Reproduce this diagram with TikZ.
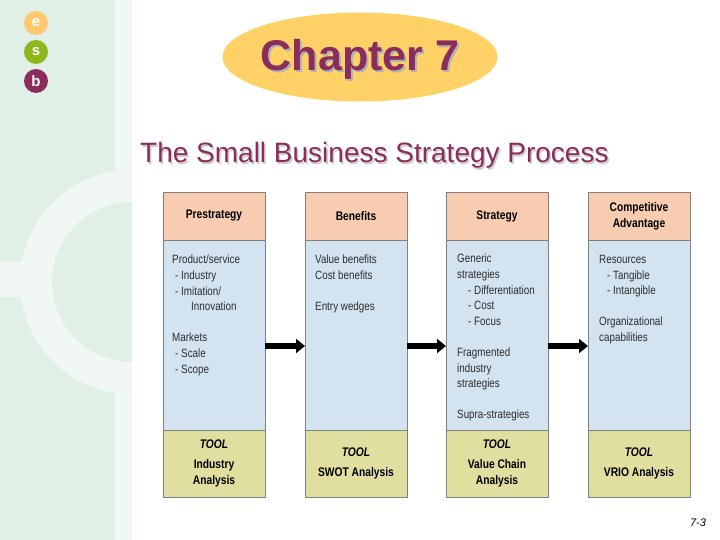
\documentclass[tikz,border=0pt]{standalone}
\usepackage{fontspec}
\setmainfont{Liberation Sans}
\newfontfamily\narrowfont[FakeStretch=0.82]{Liberation Sans}
\usetikzlibrary{arrows.meta,positioning,shapes.geometric}
\definecolor{sidegreen}{HTML}{E1F0E7}
\definecolor{sidepale}{HTML}{F1F8F4}
\definecolor{logoorange}{HTML}{FFC86E}
\definecolor{logogreen}{HTML}{8CB81E}
\definecolor{maroon}{HTML}{8A2D5C}
\definecolor{titleyellow}{HTML}{FFD166}
\definecolor{headsalmon}{HTML}{F8CCB0}
\definecolor{bodyblue}{HTML}{D3E3EF}
\definecolor{toolkhaki}{HTML}{E0DFA0}
\definecolor{bodytextgray}{HTML}{2E2E2E}

\begin{document}
\begin{tikzpicture}[x=1pt,y=-1pt,
  logo/.style={circle,fill=#1,minimum size=24pt,inner sep=0pt,text=white,
    font=\bfseries\fontsize{15}{15}\selectfont},
  headbox/.style={draw=gray,fill=headsalmon,minimum width=102pt,minimum height=48pt,
    inner sep=0pt,outer sep=0pt,align=center,font=\narrowfont\bfseries\fontsize{12.5}{16}\selectfont},
  bodybox/.style={draw=gray,fill=bodyblue,minimum width=102pt,minimum height=190pt,
    inner sep=0pt,outer sep=0pt},
  toolbox/.style={draw=gray,fill=toolkhaki,minimum width=102pt,minimum height=67pt,
    inner sep=0pt,outer sep=0pt,align=center,font=\narrowfont\bfseries\fontsize{12.5}{16}\selectfont},
  bodytext/.style={anchor=north west,inner sep=0pt,align=left,text=bodytextgray,
    font=\narrowfont\fontsize{12}{15.6}\selectfont},
  bigarrow/.style={line width=5.5pt,-{Triangle[length=9pt,width=14pt]}}]
  \useasboundingbox (0,0) rectangle (720,540);
  \fill[white] (0,0) rectangle (720,540);
  \begin{scope}
    \clip (0,0) rectangle (132,540);
    \fill[sidegreen] (0,0) rectangle (132,540);
    \fill[sidepale] (115,0) rectangle (132,540);
    \fill[sidepale] (132,282) circle [radius=112];
    \fill[sidepale] (0,262) rectangle (60,297);
    \fill[sidegreen] (132,282) circle [radius=80];
  \end{scope}

  \node[logo=logoorange] (loge) at (36,23) {e};
  \node[logo=logogreen] (logs) at (36,52) {s};
  \node[logo=maroon] (logb) at (36,81) {b};

  \node[ellipse,fill=titleyellow,minimum width=275pt,minimum height=89pt] (oval) at (360,57) {};
  \node[anchor=base,text=gray!60,font=\bfseries\fontsize{43}{43}\selectfont] (chapshadow) at (362,73) {Chapter 7};
  \node[anchor=base,text=maroon,font=\bfseries\fontsize{43}{43}\selectfont] (chapter) at (360,71) {Chapter 7};
  \node[anchor=base west,inner sep=0pt,text=gray!40,font=\fontsize{28}{28}\selectfont] (subshadow) at (141.5,164.5) {The Small Business Strategy Process};
  \node[anchor=base west,inner sep=0pt,text=maroon,font=\fontsize{28}{28}\selectfont] (subtitle) at (140,163) {The Small Business Strategy Process};

  \node[headbox] (h1) at (214,216) {Prestrategy};
  \node[headbox] (h2) at (356,216) {Benefits};
  \node[headbox] (h3) at (497,216) {Strategy};
  \node[headbox] (h4) at (639,216) {Competitive\\Advantage};

  \node[bodybox,below=0pt of h1] (b1) {};
  \node[bodybox,below=0pt of h2] (b2) {};
  \node[bodybox,below=0pt of h3] (b3) {};
  \node[bodybox,below=0pt of h4] (b4) {};

  \node[toolbox,below=0pt of b1] (t1) {\textit{TOOL}\\[4pt]Industry\\Analysis};
  \node[toolbox,below=0pt of b2] (t2) {\textit{TOOL}\\[4pt]SWOT Analysis};
  \node[toolbox,below=0pt of b3] (t3) {\textit{TOOL}\\[4pt]Value Chain\\Analysis};
  \node[toolbox,below=0pt of b4] (t4) {\textit{TOOL}\\[4pt]VRIO Analysis};

  \node[bodytext] (l1) at (172,255) {Product/service\\
    \hspace*{3pt}- Industry\\
    \hspace*{3pt}- Imitation/\\
    \hspace*{19pt}Innovation\\[15.6pt]
    Markets\\
    \hspace*{3pt}- Scale\\
    \hspace*{3pt}- Scope};
  \node[bodytext] (l2) at (315,255) {Value benefits\\
    Cost benefits\\[15.6pt]
    Entry wedges};
  \node[bodytext] (l3) at (457,254) {Generic\\
    strategies\\
    \hspace*{11pt}- Differentiation\\
    \hspace*{11pt}- Cost\\
    \hspace*{11pt}- Focus\\[15.6pt]
    Fragmented\\
    industry\\
    strategies\\[15.6pt]
    Supra-strategies};
  \node[bodytext] (l4) at (599,255) {Resources\\
    \hspace*{8pt}- Tangible\\
    \hspace*{8pt}- Intangible\\[15.6pt]
    Organizational\\
    capabilities};

  \draw[bigarrow] ([yshift=-11pt]b1.east) -- ([yshift=-11pt]b2.west);
  \draw[bigarrow] ([yshift=-11pt]b2.east) -- ([yshift=-11pt]b3.west);
  \draw[bigarrow] ([yshift=-11pt]b3.east) -- ([yshift=-11pt]b4.west);

  \node[font=\itshape\fontsize{11}{11}\selectfont] (pagenum) at (698,523) {7-3};
\end{tikzpicture}
\end{document}
